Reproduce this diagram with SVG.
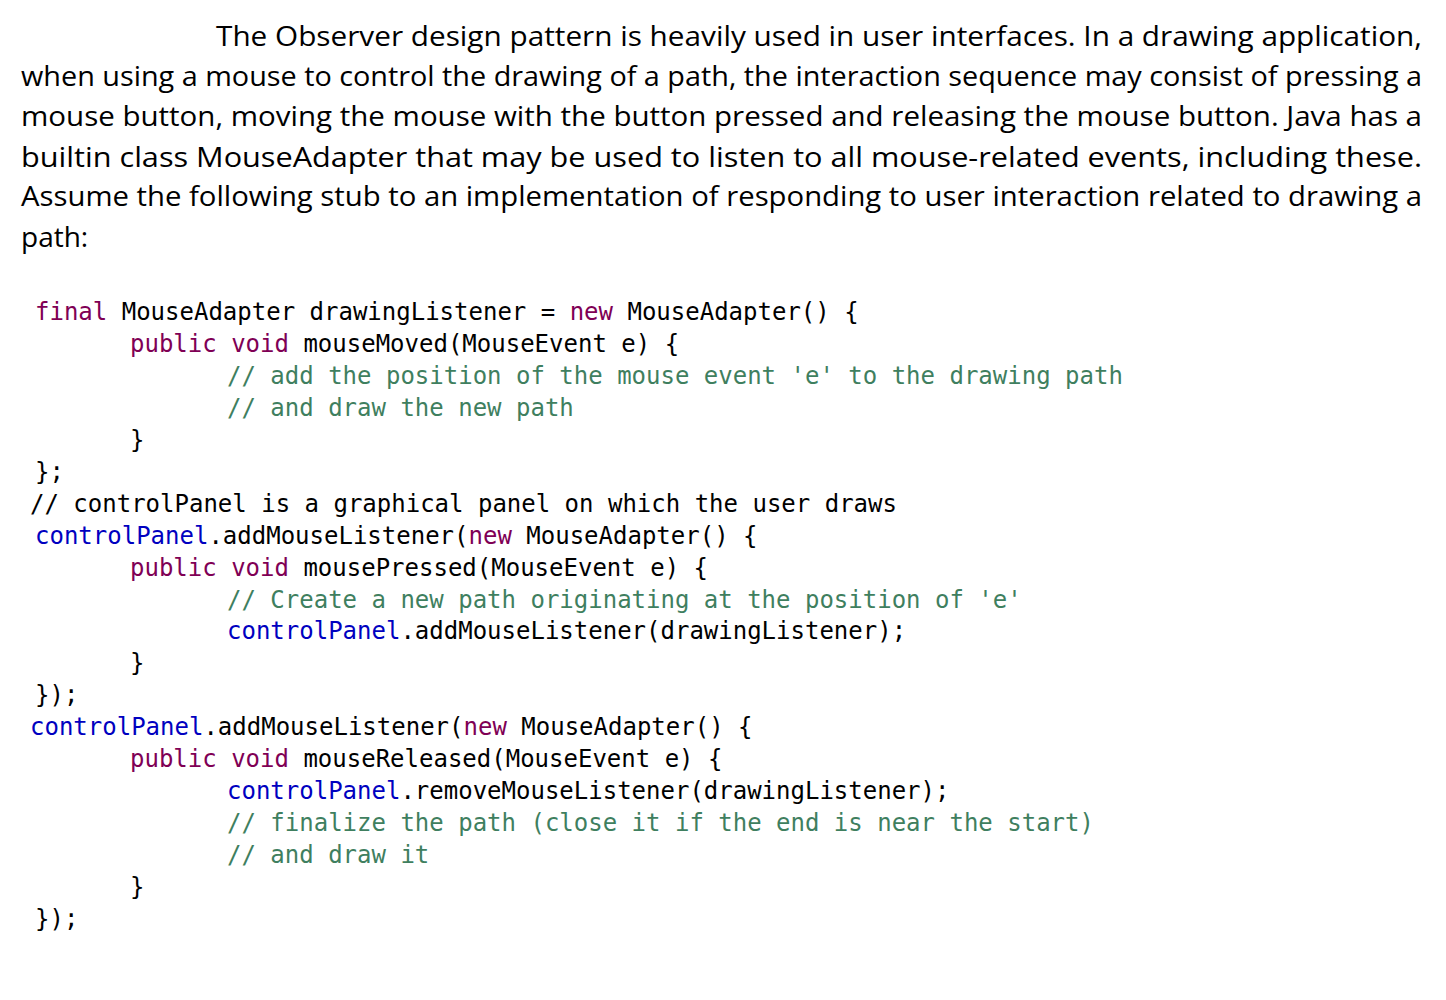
<svg xmlns="http://www.w3.org/2000/svg" width="1446" height="1000" viewBox="0 0 1446 1000">
<style>
.p{font-family:"Open Sans","Liberation Sans",sans-serif;font-size:28px;fill:#000}
.c{font-family:"DejaVu Sans Mono","Liberation Mono",monospace;font-size:24px;fill:#000}
.k{fill:#7f0055}
.m{fill:#3f7f5f}
.f{fill:#0000c0}
</style>
<rect width="1446" height="1000" fill="#fff"/>
<g id="paragraph">
<text class="p" x="216" y="46" textLength="1206" lengthAdjust="spacingAndGlyphs">The Observer design pattern is heavily used in user interfaces. In a drawing application,</text>
<text class="p" x="21" y="86" textLength="1401" lengthAdjust="spacingAndGlyphs">when using a mouse to control the drawing of a path, the interaction sequence may consist of pressing a</text>
<text class="p" x="21" y="126" textLength="1401" lengthAdjust="spacingAndGlyphs">mouse button, moving the mouse with the button pressed and releasing the mouse button. Java has a</text>
<text class="p" x="21" y="167" textLength="1401" lengthAdjust="spacingAndGlyphs">builtin class MouseAdapter that may be used to listen to all mouse-related events, including these.</text>
<text class="p" x="21" y="206" textLength="1401" lengthAdjust="spacingAndGlyphs">Assume the following stub to an implementation of responding to user interaction related to drawing a</text>
<text class="p" x="21" y="247">path:</text>
</g>
<g id="code">
<text class="c" x="35" y="320"><tspan class="k">final</tspan> MouseAdapter drawingListener = <tspan class="k">new</tspan> MouseAdapter() {</text>
<text class="c" x="130" y="352"><tspan class="k">public void</tspan> mouseMoved(MouseEvent e) {</text>
<text class="c m" x="227" y="384">// add the position of the mouse event 'e' to the drawing path</text>
<text class="c m" x="227" y="416">// and draw the new path</text>
<text class="c" x="130" y="448">}</text>
<text class="c" x="35" y="480">};</text>
<text class="c" x="30" y="512">// controlPanel is a graphical panel on which the user draws</text>
<text class="c" x="35" y="544"><tspan class="f">controlPanel</tspan>.addMouseListener(<tspan class="k">new</tspan> MouseAdapter() {</text>
<text class="c" x="130" y="576"><tspan class="k">public void</tspan> mousePressed(MouseEvent e) {</text>
<text class="c m" x="227" y="608">// Create a new path originating at the position of 'e'</text>
<text class="c" x="227" y="639"><tspan class="f">controlPanel</tspan>.addMouseListener(drawingListener);</text>
<text class="c" x="130" y="671">}</text>
<text class="c" x="35" y="703">});</text>
<text class="c" x="30" y="735"><tspan class="f">controlPanel</tspan>.addMouseListener(<tspan class="k">new</tspan> MouseAdapter() {</text>
<text class="c" x="130" y="767"><tspan class="k">public void</tspan> mouseReleased(MouseEvent e) {</text>
<text class="c" x="227" y="799"><tspan class="f">controlPanel</tspan>.removeMouseListener(drawingListener);</text>
<text class="c m" x="227" y="831">// finalize the path (close it if the end is near the start)</text>
<text class="c m" x="227" y="863">// and draw it</text>
<text class="c" x="130" y="895">}</text>
<text class="c" x="35" y="927">});</text>
</g>
</svg>
